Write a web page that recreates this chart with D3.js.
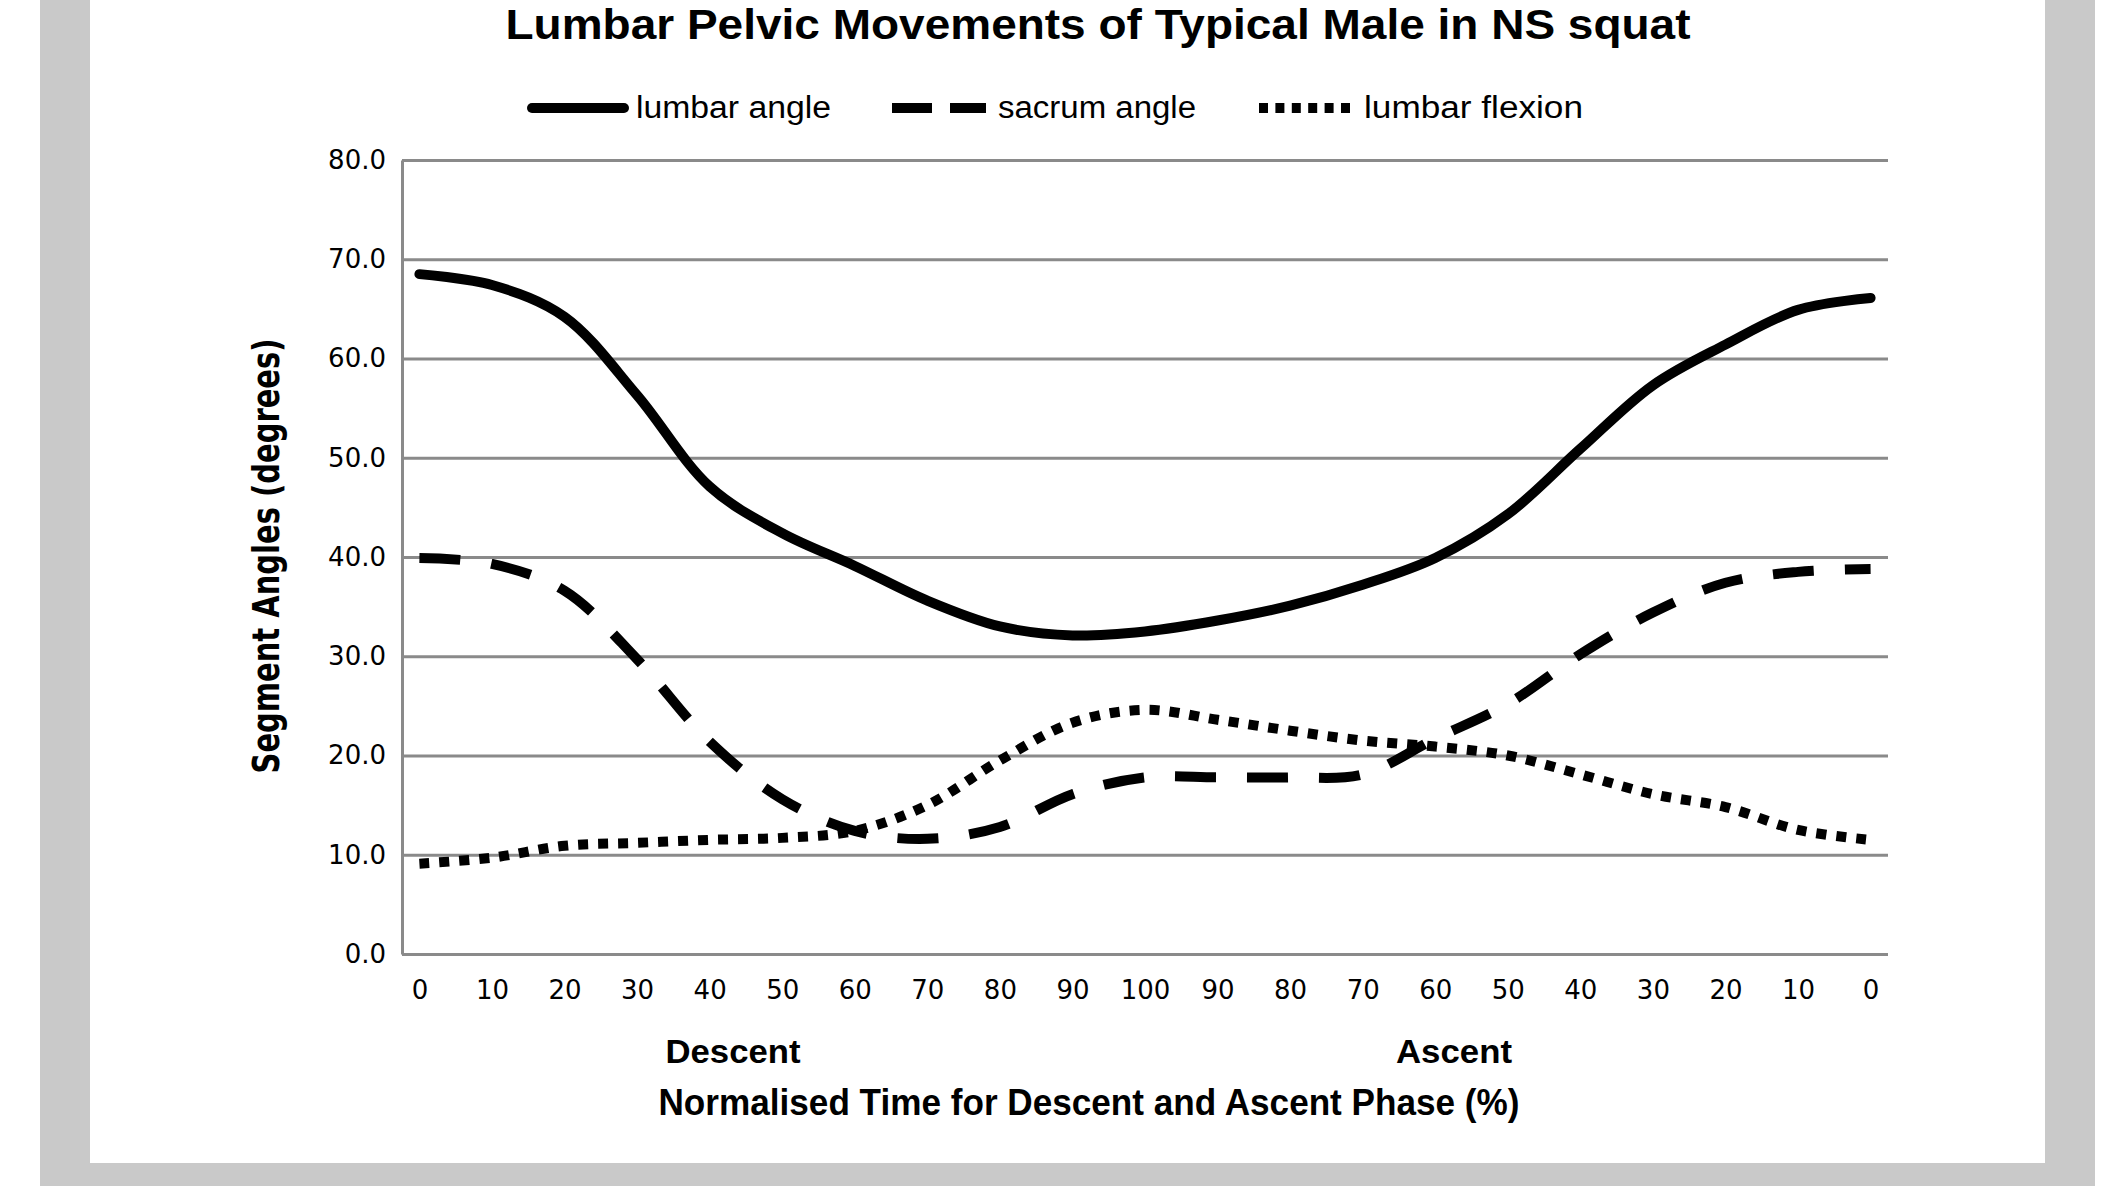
<!DOCTYPE html>
<html>
<head>
<meta charset="utf-8">
<script src="https://cdn.jsdelivr.net/npm/d3@7"></script>
<style>
  html, body { margin: 0; padding: 0; background: #ffffff; }
  svg { display: block; }
</style>
</head>
<body>
<svg id="chart" width="2121" height="1186"></svg>
<script>
// ---- data ----
const title = "Lumbar Pelvic Movements of Typical Male in NS squat";
const xTickLabels = ["0","10","20","30","40","50","60","70","80","90","100","90","80","70","60","50","40","30","20","10","0"];
const yTickValues = [0, 10, 20, 30, 40, 50, 60, 70, 80];
const seriesNames = ["lumbar angle", "sacrum angle", "lumbar flexion"];
const lumbarAngle   = [68.5, 67.4, 64.2, 56.3, 47.1, 42.4, 39.1, 35.6, 33.0, 32.1, 32.5, 33.6, 35.1, 37.2, 39.9, 44.3, 50.9, 57.3, 61.4, 64.9, 66.1];
const sacrumAngle   = [39.9, 39.3, 36.6, 29.7, 21.4, 15.6, 12.4, 11.6, 12.8, 16.1, 17.8, 17.8, 17.8, 18.1, 21.7, 25.2, 30.2, 34.4, 37.4, 38.5, 38.8];
const lumbarFlexion = [9.1, 9.7, 10.9, 11.2, 11.5, 11.7, 12.4, 15.0, 19.5, 23.3, 24.6, 23.6, 22.5, 21.5, 20.9, 20.0, 18.1, 16.1, 14.8, 12.5, 11.5];
const phaseLabels = ["Descent", "Ascent"];
const xAxisTitle = "Normalised Time for Descent and Ascent Phase (%)";
const yAxisTitle = "Segment Angles (degrees)";

// ---- layout ----
const W = 2121, H = 1186;
const plot = { left: 402, right: 1888, top: 160, bottom: 954 };
const gridColor = "#8a8a8a";
const frameColor = "#c9c9c9";
const tickFont = "'DejaVu Sans',Verdana,sans-serif";
const textFont = "'Liberation Sans',Arial,sans-serif";

const svg = d3.select("#chart");
svg.append("rect").attr("width", W).attr("height", H).attr("fill", "#ffffff");

// gray frame bands
svg.append("rect").attr("x", 40).attr("y", 0).attr("width", 50).attr("height", H).attr("fill", frameColor);
svg.append("rect").attr("x", 2045).attr("y", 0).attr("width", 50).attr("height", H).attr("fill", frameColor);
svg.append("rect").attr("x", 40).attr("y", 1163).attr("width", 2055).attr("height", H - 1163).attr("fill", frameColor);

// scales
const idx = d3.range(xTickLabels.length);
const x = d3.scalePoint().domain(idx).range([plot.left, plot.right]).padding(0.24);
const y = d3.scaleLinear().domain([0, 80]).range([plot.bottom, plot.top]);

// y axis with gridlines
const yAxis = d3.axisLeft(y)
  .tickValues(yTickValues)
  .tickFormat(d3.format(".1f"))
  .tickSize(-(plot.right - plot.left))
  .tickSizeOuter(0)
  .tickPadding(16);
const gy = svg.append("g").attr("transform", `translate(${plot.left},0)`).call(yAxis);
gy.select(".domain").attr("stroke", gridColor).attr("stroke-width", 3);
gy.selectAll(".tick line").attr("stroke", gridColor).attr("stroke-width", 3);
gy.selectAll(".tick text")
  .attr("font-family", tickFont).attr("font-size", 26).attr("fill", "#000");

// x axis labels
const xAxis = d3.axisBottom(x).tickFormat(i => xTickLabels[i]).tickSize(0).tickPadding(27);
const gx = svg.append("g").attr("transform", `translate(0,${plot.bottom})`).call(xAxis);
gx.select(".domain").remove();
gx.selectAll(".tick text")
  .attr("font-family", tickFont).attr("font-size", 26).attr("fill", "#000");

// lines
const lineGen = d3.line()
  .x((d, i) => x(i))
  .y(d => y(d))
  .curve(d3.curveCatmullRom.alpha(0.5));

const styles = [
  { data: lumbarAngle,   dash: null,    cap: "round" },
  { data: sacrumAngle,   dash: "41,31", cap: "butt" },
  { data: lumbarFlexion, dash: "10,10", cap: "butt" }
];
styles.forEach(s => {
  svg.append("path")
    .attr("d", lineGen(s.data))
    .attr("fill", "none")
    .attr("stroke", "#000")
    .attr("stroke-width", 10)
    .attr("stroke-linecap", s.cap)
    .attr("stroke-linejoin", "round")
    .attr("stroke-dasharray", s.dash);
});

// title
svg.append("text")
  .attr("x", 1098).attr("y", 39)
  .attr("text-anchor", "middle")
  .attr("font-family", textFont)
  .attr("font-weight", "bold").attr("font-size", 42)
  .attr("textLength", 1185).attr("lengthAdjust", "spacingAndGlyphs")
  .text(title);

// legend
const legendItems = [
  { name: seriesNames[0], x1: 532, x2: 624, dash: null, cap: "round", tx: 636, tl: 195 },
  { name: seriesNames[1], x1: 892, x2: 986, dash: "40,18", cap: "butt", tx: 998, tl: 198 },
  { name: seriesNames[2], x1: 1259, x2: 1350, dash: "9,7.4", cap: "butt", tx: 1364, tl: 219 }
];
const lg = svg.append("g");
legendItems.forEach(it => {
  lg.append("line")
    .attr("x1", it.x1).attr("x2", it.x2).attr("y1", 108).attr("y2", 108)
    .attr("stroke", "#000").attr("stroke-width", 10)
    .attr("stroke-linecap", it.cap)
    .attr("stroke-dasharray", it.dash);
  lg.append("text")
    .attr("x", it.tx).attr("y", 118)
    .attr("font-family", textFont)
    .attr("font-size", 31)
    .attr("textLength", it.tl).attr("lengthAdjust", "spacingAndGlyphs")
    .text(it.name);
});

// phase labels
const phasePos = [{ cx: 733, tl: 135 }, { cx: 1454, tl: 116 }];
phaseLabels.forEach((t, i) => {
  svg.append("text")
    .attr("x", phasePos[i].cx).attr("y", 1063)
    .attr("text-anchor", "middle")
    .attr("font-family", textFont)
    .attr("font-weight", "bold").attr("font-size", 33)
    .attr("textLength", phasePos[i].tl).attr("lengthAdjust", "spacingAndGlyphs")
    .text(t);
});

// x axis title
svg.append("text")
  .attr("x", 1089).attr("y", 1115)
  .attr("text-anchor", "middle")
  .attr("font-family", textFont)
  .attr("font-weight", "bold").attr("font-size", 37)
  .attr("textLength", 861).attr("lengthAdjust", "spacingAndGlyphs")
  .text(xAxisTitle);

// y axis title
svg.append("text")
  .attr("transform", "translate(279,556) rotate(-90)")
  .attr("text-anchor", "middle")
  .attr("font-family", "'DejaVu Sans',Verdana,sans-serif")
  .attr("font-weight", "bold").attr("font-size", 38)
  .attr("textLength", 435).attr("lengthAdjust", "spacingAndGlyphs")
  .text(yAxisTitle);
</script>
</body>
</html>
